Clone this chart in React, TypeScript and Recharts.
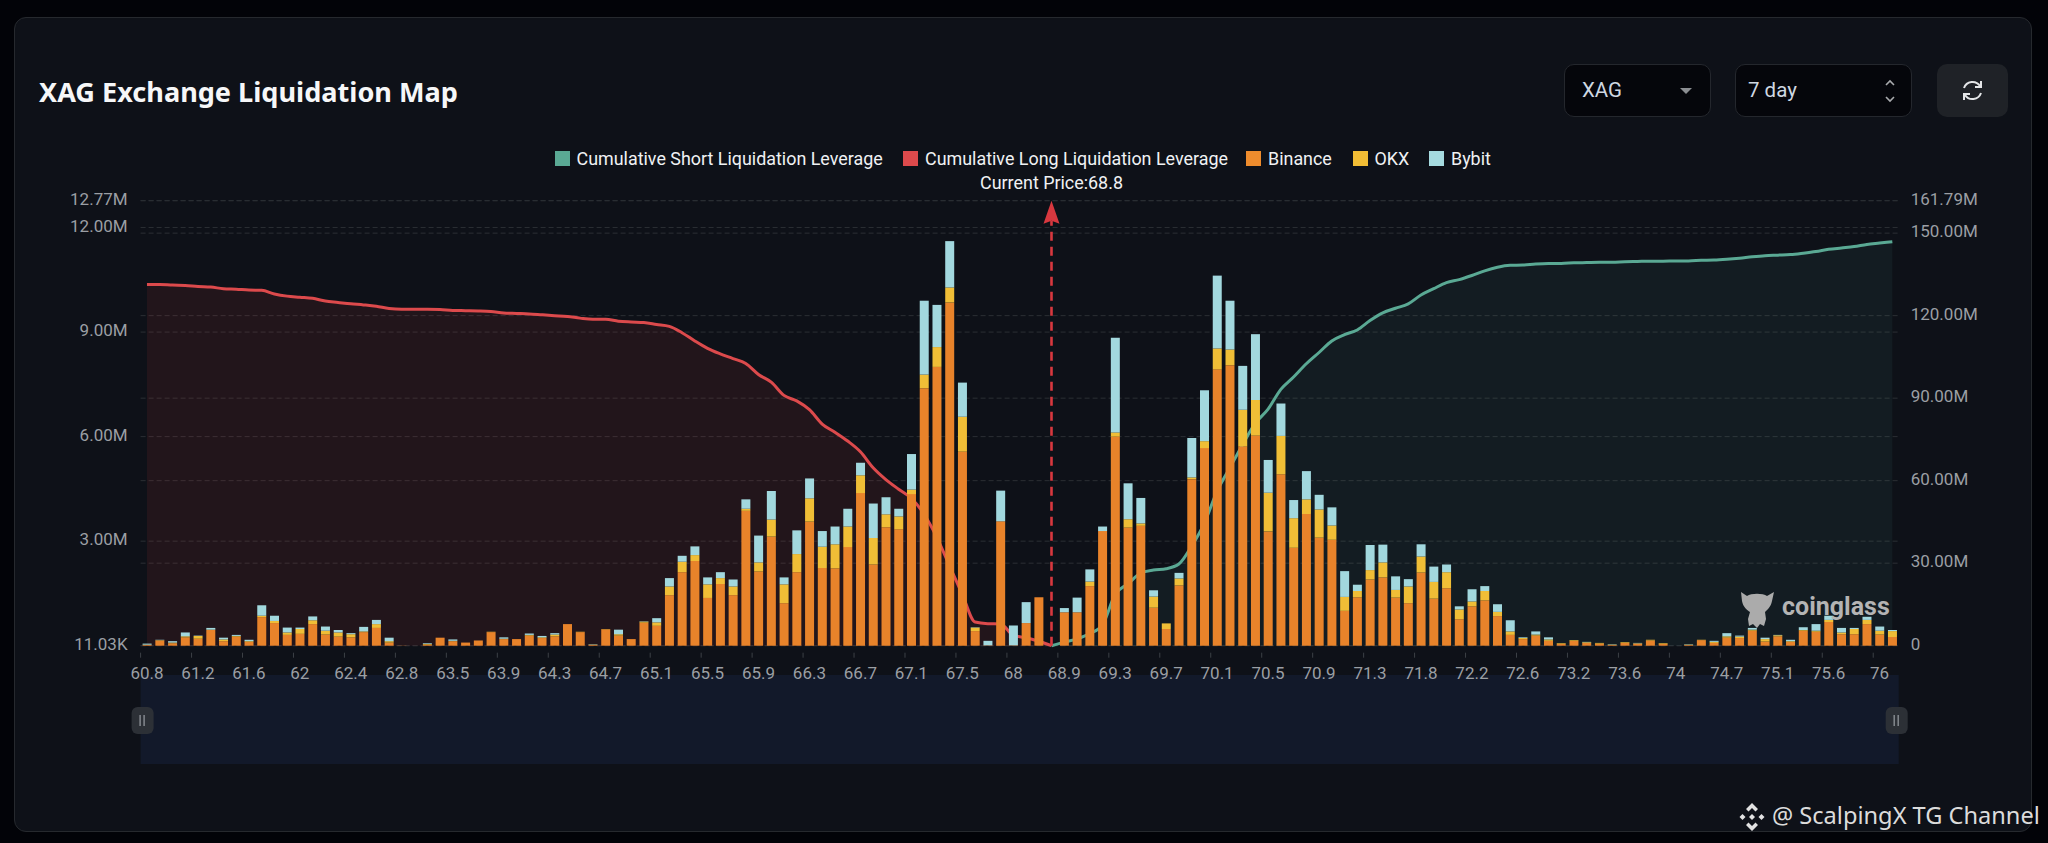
import React from "react";
import { ComposedChart, Bar, Area, XAxis, YAxis, CartesianGrid, ReferenceLine, Legend, Brush } from "recharts";

const prices = ["60.8","60.9","61","61.1","61.2","61.3","61.4","61.5","61.6","61.7","61.8","61.9","62","62.1","62.2","62.3","62.4","62.5","62.6","62.7","62.8","63","63.1","63.3","63.5","63.6","63.7","63.8","63.9","64","64.1","64.2","64.3","64.4","64.5","64.6","64.7","64.8","64.9","65","65.1","65.2","65.3","65.4","65.5","65.6","65.7","65.8","65.9","66","66.1","66.2","66.3","66.4","66.5","66.6","66.7","66.8","66.9","67","67.1","67.2","67.3","67.4","67.5","67.6","67.7","67.9","68","68.1","68.2","68.8","68.9","69","69.1","69.2","69.3","69.4","69.5","69.6","69.7","69.8","69.9","70","70.1","70.2","70.3","70.4","70.5","70.6","70.7","70.8","70.9","71","71.1","71.2","71.3","71.4","71.5","71.6","71.8","71.9","72","72.1","72.2","72.3","72.4","72.5","72.6","72.7","72.8","73","73.2","73.3","73.4","73.5","73.6","73.7","73.8","73.9","74","74.1","74.3","74.5","74.7","74.8","74.9","75","75.1","75.2","75.3","75.5","75.6","75.7","75.8","75.9","76","76.1"];

const binance = [.02,.15,.07,.24,.2,.45,.13,.26,.11,.82,.65,.31,.34,.62,.32,.26,.24,.39,.51,.09,.005,0,.03,.23,.13,.09,.15,.39,.19,.19,.29,.22,.27,.62,.39,.02,.47,.29,.19,.66,.57,1.45,2.11,2.43,1.37,1.77,1.45,3.87,2.13,3.13,1.22,2.11,3.56,2.23,2.22,2.83,4.38,2.33,3.40,3.34,4.35,7.39,8.0,9.85,5.57,.42,.01,3.57,.01,.65,1.39,0,.96,.96,1.71,3.29,6.0,3.39,3.44,1.09,.48,1.73,4.78,5.67,7.93,8.05,5.72,6.03,3.28,4.92,2.81,3.78,3.1,3.04,1.0,1.39,1.90,1.96,1.38,1.22,2.10,1.35,1.65,.76,1.13,1.30,.85,.31,.19,.29,.14,.05,.14,.08,.06,.02,.08,.06,.15,.05,0,.02,.16,.08,.23,.22,.43,.12,.27,.11,.43,.40,.68,.33,.33,.62,.32,.25];
const okx = [.01,.01,.02,.03,.08,.01,.05,.02,.02,.04,.06,.07,.14,.11,.11,.12,.09,.02,.11,.04,0,0,.02,0,.01,0,0,.01,.01,0,.02,.02,.05,0,.01,.01,.01,.04,0,.03,.10,.25,.30,.17,.39,.17,.25,.06,.26,.49,.54,.52,.67,.61,.69,.59,.51,.76,.37,.37,.13,.39,.57,.43,1.0,.1,0,0,0,0,0,0,0,0,.13,0,.12,.24,.07,.32,.16,.2,.05,.2,.6,.45,1.05,1.02,1.11,1.1,.85,.42,.81,.41,.4,.18,.27,.43,.22,.48,.46,.48,.46,.28,.14,.27,.12,.10,.03,.03,.04,.02,.02,.02,.02,.01,.02,.01,.02,.02,0,.01,.01,.03,.04,.04,.03,.07,.03,.02,.02,.03,.06,.05,.15,.12,.11,.17];
const bybit = [.03,.01,.04,.11,.01,.05,.05,.03,.04,.30,.15,.14,.04,.11,.12,.07,.03,.13,.12,.1,0,0,.02,0,.04,0,0,0,.04,0,.04,.04,.04,0,0,.01,0,.13,0,.01,.12,.24,.17,.25,.2,.17,.2,.27,.77,.82,.2,.68,.57,.45,.51,.51,.36,.99,.49,.22,1.02,2.12,1.21,1.33,.98,.01,.13,.88,.57,.6,0,0,.12,.42,.35,.13,2.72,1.03,.73,.18,0,.16,1.13,1.46,2.09,1.4,1.26,1.89,.94,.93,.52,.81,.42,.52,.74,.18,.72,.51,.39,.21,.35,.44,.22,.09,.35,.14,.22,.32,.02,.09,.06,0,0,.01,0,.01,0,.01,0,0,0,.01,0,.03,.09,.03,.05,.04,.01,.04,.08,.19,.12,.13,.03,.09,.12,.03];

const longLev: (number | null)[] = [131.3,131.3,131.1,131.0,130.6,130.4,129.8,129.6,129.3,129.2,127.9,127.1,126.7,126.3,125.3,124.8,124.3,123.9,123.4,122.6,122.3,122.3,122.3,122.2,121.9,121.8,121.7,121.5,121.0,120.8,120.6,120.3,120.0,119.7,119.1,118.7,118.7,118.0,117.7,117.5,116.8,116.1,113.8,110.8,108.1,106.1,104.4,102.6,98.6,95.8,91.0,89.0,85.8,80.6,77.6,74.4,70.5,64.7,60.4,56.9,53.6,47.8,39.4,29.0,18.7,8.6,8.0,7.9,3.8,2.9,1.6,0];
const shortLev: number[] = [0,1.3,2.5,4.4,7.6,18.7,22.5,26.4,27.5,28.0,29.7,36.2,44.6,56.2,64.7,73.1,80.9,86.0,93.2,97.7,102.5,106.6,110.8,113.1,114.8,118.2,121.0,122.7,124.3,127.5,129.8,132.0,133.1,134.6,136.3,137.6,138.3,138.4,138.8,139.0,139.0,139.2,139.3,139.4,139.4,139.6,139.7,139.8,139.8,139.9,139.9,140.1,140.2,140.5,140.9,141.4,141.8,142.0,142.2,142.7,143.3,144.1,144.6,145.1,145.9,146.4,146.9];

const leftTicks = [0, 3, 6, 9, 12, 12.77];
const leftLabels = ["11.03K", "3.00M", "6.00M", "9.00M", "12.00M", "12.77M"];
const rightTicks = [0, 30, 60, 90, 120, 150, 161.79];
const rightLabels = ["0", "30.00M", "60.00M", "90.00M", "120.00M", "150.00M", "161.79M"];

const legendNames = ["Cumulative Short Liquidation Leverage", "Cumulative Long Liquidation Leverage", "Binance", "OKX", "Bybit"];
const legendColors = ["#5aa994", "#dd4a4c", "#ee8c2d", "#f2bd35", "#a5dadf"];
const legendLefts = [554.5, 903, 1246, 1352.5, 1429];

const rows = prices.map((price, i) => ({
  price,
  binance: binance[i],
  okx: okx[i],
  bybit: bybit[i],
  long: i < longLev.length ? longLev[i] : null,
  short: i >= 71 ? shortLev[i - 71] : null,
}));

const FONT = "Roboto, sans-serif";
const AXIS = "#9b9fa4";

const XTick = (p: any) => (
  <g>
    <line x1={p.x - 6.37} x2={p.x - 6.37} y1={p.y - 1} y2={p.y + 4} stroke="#3c4046" />
    <text x={p.x} y={p.y + 25} textAnchor="middle" fill={AXIS} fontSize={17} fontFamily={FONT}>{p.payload.value}</text>
  </g>
);

const Handle = (p: any) => (
  <g>
    <rect x={p.x - 9} y={p.y + 32} width={22} height={27} rx={6} fill="#2c3036" />
    <line x1={p.x - 0.5} x2={p.x - 0.5} y1={p.y + 40} y2={p.y + 51} stroke="#8a8e94" strokeWidth={1.4} />
    <line x1={p.x + 3.5} x2={p.x + 3.5} y1={p.y + 40} y2={p.y + 51} stroke="#8a8e94" strokeWidth={1.4} />
  </g>
);

const Arrow = (p: any) => {
  const top = Math.min(p.y1, p.y2);
  const bottom = Math.max(p.y1, p.y2);
  return (
    <g>
      <line x1={p.x1} x2={p.x1} y1={bottom} y2={top + 20} stroke="#d8383f" strokeWidth={2.6} strokeDasharray="9 6" />
      <polygon points={`${p.x1},${top} ${p.x1 + 8},${top + 23} ${p.x1},${top + 20} ${p.x1 - 8},${top + 23}`} fill="#d8383f" />
    </g>
  );
};

const LegendRow = () => (
  <div style={{ position: "relative", width: 2048, height: 20, fontFamily: FONT, fontSize: 17.9, color: "#f0f2f4" }}>
    {legendNames.map((n, i) => (
      <div key={n} style={{ position: "absolute", left: legendLefts[i], top: 0, display: "flex", alignItems: "center", whiteSpace: "nowrap", lineHeight: "17px" }}>
        <span style={{ width: 15, height: 15, background: legendColors[i], marginRight: 7, display: "inline-block" }} />
        {n}
      </div>
    ))}
  </div>
);

const boxStyle: React.CSSProperties = {
  position: "absolute", top: 64, height: 53, boxSizing: "border-box", borderRadius: 10,
  background: "#05060b", border: "1px solid #24272d", color: "#cfd8e2", fontFamily: FONT, fontSize: 20.5,
  lineHeight: "51px",
};

export default function App() {
  return (
    <div style={{ position: "absolute", left: 0, top: 0, width: 2048, height: 843, background: "#020308", overflow: "hidden" }}>
      <div style={{ position: "absolute", left: 14, top: 17, width: 2018, height: 815, boxSizing: "border-box", background: "#0e1118", border: "1px solid #26292e", borderRadius: 12 }} />
      <div style={{ position: "absolute", left: 39, top: 72, fontFamily: "'Noto Sans', sans-serif", fontWeight: 700, fontSize: 27.1, lineHeight: "40px", color: "#f6f7f8", whiteSpace: "nowrap" }}>XAG Exchange Liquidation Map</div>

      <div style={{ ...boxStyle, left: 1564, width: 147 }}>
        <span style={{ marginLeft: 17 }}>XAG</span>
        <svg style={{ position: "absolute", left: 114, top: 22 }} width={14} height={8}><polygon points="1,1 13,1 7,7" fill="#8b8e92" /></svg>
      </div>
      <div style={{ ...boxStyle, left: 1735, width: 177 }}>
        <span style={{ marginLeft: 12 }}>7 day</span>
        <svg style={{ position: "absolute", left: 147, top: 13 }} width={14} height={26} fill="none" stroke="#a9abae" strokeWidth={1.6}><path d="M3 7 L7 3 L11 7" /><path d="M3 19 L7 23 L11 19" /></svg>
      </div>
      <div style={{ position: "absolute", left: 1937, top: 64, width: 71, height: 53, borderRadius: 10, background: "#1f2227" }}>
        <svg style={{ position: "absolute", left: 23, top: 14 }} width={25} height={25} viewBox="0 0 25 25" fill="none" stroke="#e4e6e8" strokeWidth={2}>
          <path d="M4 10 A9 9 0 0 1 20 8" /><path d="M21 15 A9 9 0 0 1 5 17" /><path d="M21 3 V9 H15" /><path d="M4 22 V16 H10" />
        </svg>
      </div>

      <div style={{ position: "absolute", left: 0, top: 0 }}>
        <ComposedChart width={2048} height={843} data={rows} margin={{ top: 200.7, right: 0, bottom: 78.3, left: 0 }} barCategoryGap={0}>
          <CartesianGrid yAxisId="left" vertical={false} stroke="#2b2f34" strokeDasharray="5 3" />
          <CartesianGrid yAxisId="right" vertical={false} stroke="#2b2f34" strokeDasharray="5 3" />
          <XAxis dataKey="price" interval={3} height={30} axisLine={false} tickLine={false} tick={<XTick />} />
          <YAxis yAxisId="left" orientation="left" width={140.6} domain={[0, 12.77]} ticks={leftTicks} interval={0} axisLine={false} tickLine={false} tickSize={0} tickMargin={13}
            tick={{ fill: AXIS, fontSize: 17, fontFamily: FONT, dy: -2 }} tickFormatter={(v: number) => leftLabels[leftTicks.indexOf(v)]} />
          <YAxis yAxisId="right" orientation="right" width={149.3} domain={[0, 161.79]} ticks={rightTicks} interval={0} axisLine={false} tickLine={false} tickSize={0} tickMargin={12}
            tick={{ fill: AXIS, fontSize: 17, fontFamily: FONT, dy: -2 }} tickFormatter={(v: number) => rightLabels[rightTicks.indexOf(v)]} />
          <Bar yAxisId="left" dataKey="binance" name="Binance" stackId="a" fill="#e8832a" barSize={9} isAnimationActive={false} />
          <Bar yAxisId="left" dataKey="okx" name="OKX" stackId="a" fill="#f0be36" barSize={9} isAnimationActive={false} />
          <Bar yAxisId="left" dataKey="bybit" name="Bybit" stackId="a" fill="#a2d8de" barSize={9} isAnimationActive={false} />
          <Area yAxisId="right" dataKey="long" name="Cumulative Long Liquidation Leverage" type="monotone" stroke="#dc4a4c" strokeWidth={3} fill="rgb(220,60,60)" fillOpacity={0.1} dot={false} activeDot={false} isAnimationActive={false} />
          <Area yAxisId="right" dataKey="short" name="Cumulative Short Liquidation Leverage" type="monotone" stroke="#5aa994" strokeWidth={3} fill="rgb(85,170,150)" fillOpacity={0.08} dot={false} activeDot={false} isAnimationActive={false} />
          <ReferenceLine yAxisId="left" x="68.8" shape={<Arrow />} label={{ value: "Current Price:68.8", position: "top", fill: "#f0f2f4", fontSize: 17.9, fontFamily: FONT, offset: 12 }} />
          <Legend layout="horizontal" verticalAlign="middle" align="center" content={<LegendRow />} wrapperStyle={{ left: 0, top: 150, width: 2048, height: 20 }} />
          <Brush dataKey="price" y={675} height={89} fill="#12192a" stroke="transparent" travellerWidth={4} traveller={<Handle />} />
        </ComposedChart>
      </div>

      <svg style={{ position: "absolute", left: 1738, top: 588 }} width={40} height={42} viewBox="0 0 40 42" fill="#ababab">
        <path d="M3 4 L9 8 C13 5 25 5 29 8 L36 4 L34 13 C33 19 29 22 27 24 L28 31 L26 38 L22 36 L19 40 L15 36 L11 38 L10 31 L12 24 C9 22 5 19 4 13 Z" />
      </svg>
      <div style={{ position: "absolute", left: 1782, top: 591, fontFamily: "Roboto, sans-serif", fontWeight: 700, fontSize: 25, lineHeight: "32px", color: "#b4b4b4", whiteSpace: "nowrap" }}>coinglass</div>

      <svg style={{ position: "absolute", left: 1738, top: 803 }} width={28} height={28} viewBox="0 0 28 28" fill="#e2e2e2">
        <polygon points="14,0 20,6 17.5,8.5 14,5 10.5,8.5 8,6" />
        <polygon points="14,28 20,22 17.5,19.5 14,23 10.5,19.5 8,22" />
        <polygon points="4.5,11 7.5,14 4.5,17 1.5,14" />
        <polygon points="23.5,11 26.5,14 23.5,17 20.5,14" />
        <polygon points="14,11 17,14 14,17 11,14" />
      </svg>
      <div style={{ position: "absolute", left: 1772, top: 798, fontFamily: "'Noto Sans', sans-serif", fontSize: 23.6, lineHeight: "34px", color: "#dcdcdc", whiteSpace: "nowrap" }}>@ ScalpingX TG Channel</div>
    </div>
  );
}
